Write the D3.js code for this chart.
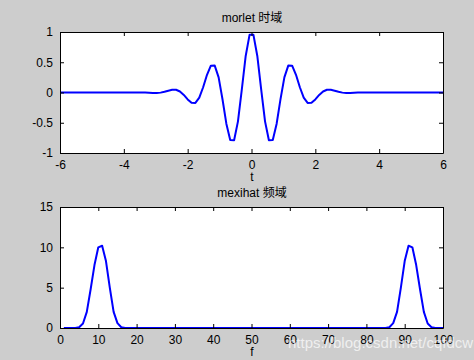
<!DOCTYPE html>
<html>
<head>
<meta charset="utf-8">
<script src="https://cdn.jsdelivr.net/npm/d3@7"></script>
<style>
  body { margin: 0; background: #cdcdcd; }
  svg { display: block; }
  text { font-family: "Liberation Sans", Arial, sans-serif; }
</style>
</head>
<body>
<svg width="474" height="360"></svg>
<script>
// morlet, time domain (t, value)
var morletT = [-6,
  -3.333, -3.212, -3.091, -2.970, -2.848, -2.727, -2.606, -2.485, -2.364, -2.242,
  -2.121, -2.000, -1.879, -1.758, -1.636, -1.515, -1.394, -1.273, -1.152, -1.030,
  -0.909, -0.788, -0.667, -0.545, -0.424, -0.303, -0.182, -0.061,
  0.061, 0.182, 0.303, 0.424, 0.545, 0.667, 0.788, 0.909, 1.030, 1.152,
  1.273, 1.394, 1.515, 1.636, 1.758, 1.879, 2.000, 2.121, 2.242, 2.364,
  2.485, 2.606, 2.727, 2.848, 2.970, 3.091, 3.212, 3.333,
  6];
var morletV = [0,
  -0.002, -0.005, -0.008, -0.008, -0.002, 0.012, 0.030, 0.045, 0.045, 0.017,
  -0.040, -0.114, -0.171, -0.172, -0.085, 0.087, 0.293, 0.444, 0.445, 0.249,
  -0.111, -0.515, -0.786, -0.789, -0.477, 0.053, 0.604, 0.953,
  0.953, 0.604, 0.053, -0.477, -0.789, -0.786, -0.515, -0.111, 0.249, 0.445,
  0.444, 0.293, 0.087, -0.085, -0.172, -0.171, -0.114, -0.040, 0.017, 0.045,
  0.045, 0.030, 0.012, -0.002, -0.008, -0.008, -0.005, -0.002,
  0];

// mexihat, frequency domain: f = 1..100
var mexF = d3.range(1, 101);
var mexV = [
  0, 0, 0, 0, 0.1, 0.55, 2.0, 4.8, 7.8, 10.0,
  10.2, 8.3, 5.0, 2.0, 0.6, 0.1, 0, 0, 0, 0,
  0, 0, 0, 0, 0, 0, 0, 0, 0, 0,
  0, 0, 0, 0, 0, 0, 0, 0, 0, 0,
  0, 0, 0, 0, 0, 0, 0, 0, 0, 0,
  0, 0, 0, 0, 0, 0, 0, 0, 0, 0,
  0, 0, 0, 0, 0, 0, 0, 0, 0, 0,
  0, 0, 0, 0, 0, 0, 0, 0, 0, 0,
  0, 0, 0, 0, 0, 0.1, 0.6, 2.0, 5.0, 8.3,
  10.2, 10.0, 7.8, 4.8, 2.0, 0.55, 0.1, 0, 0, 0
];

var topXTicks = [-6, -4, -2, 0, 2, 4, 6];
var topYTicks = [-1, -0.5, 0, 0.5, 1];
var botXTicks = [0, 10, 20, 30, 40, 50, 60, 70, 80, 90, 100];
var botYTicks = [0, 5, 10, 15];

var svg = d3.select("svg");

function panel(opt) {
  var x = d3.scaleLinear().domain(opt.xd).range([60, 443]);
  var y = d3.scaleLinear().domain(opt.yd).range([opt.bottom, opt.top]);
  var g = svg.append("g");

  g.append("rect")
    .attr("x", 60).attr("y", opt.top)
    .attr("width", 383).attr("height", opt.bottom - opt.top)
    .attr("fill", "#fff");

  var line = d3.line()
    .x(function(d) { return x(d[0]); })
    .y(function(d) { return y(d[1]); });
  g.append("path")
    .datum(d3.zip(opt.xs, opt.ys))
    .attr("d", line)
    .attr("fill", "none")
    .attr("stroke", "#0000ff")
    .attr("stroke-width", 2)
    .attr("stroke-linejoin", "round");

  // axes with inward ticks, mirrored on top/right
  var fmt = function(d) { return String(d); };
  var bx = g.append("g").attr("transform", "translate(0," + opt.bottom + ")")
    .call(d3.axisBottom(x).tickValues(opt.xt).tickFormat(fmt).tickSizeInner(-4).tickSizeOuter(0).tickPadding(7));
  var tx = g.append("g").attr("transform", "translate(0," + opt.top + ")")
    .call(d3.axisTop(x).tickValues(opt.xt).tickFormat("").tickSizeInner(-4).tickSizeOuter(0));
  var ly = g.append("g").attr("transform", "translate(60,0)")
    .call(d3.axisLeft(y).tickValues(opt.yt).tickFormat(fmt).tickSizeInner(-4).tickSizeOuter(0).tickPadding(7));
  var ry = g.append("g").attr("transform", "translate(443,0)")
    .call(d3.axisRight(y).tickValues(opt.yt).tickFormat("").tickSizeInner(-4).tickSizeOuter(0));

  [bx, tx, ly, ry].forEach(function(a) {
    a.select(".domain").attr("stroke", "#000");
    a.selectAll("line").attr("stroke", "#000");
    a.selectAll("text")
      .attr("fill", "#000")
      .style("font-family", "'Liberation Sans', Arial, sans-serif")
      .style("font-size", "12px");
  });

  g.append("text")
    .attr("x", 252).attr("y", opt.top - 10)
    .attr("text-anchor", "middle")
    .style("font-size", "12px")
    .style("font-family", "'Liberation Sans', 'Noto Sans CJK SC', sans-serif")
    .text(opt.title);

  g.append("text")
    .attr("x", 252).attr("y", opt.bottom + 28)
    .attr("text-anchor", "middle")
    .style("font-size", "12px")
    .text(opt.xlabel);
}

panel({ top: 32, bottom: 153, xd: [-6, 6], yd: [-1, 1],
        xs: morletT, ys: morletV, xt: topXTicks, yt: topYTicks,
        title: "morlet 时域", xlabel: "t" });

panel({ top: 207, bottom: 328, xd: [0, 100], yd: [0, 15],
        xs: mexF, ys: mexV, xt: botXTicks, yt: botYTicks,
        title: "mexihat 频域", xlabel: "f" });

// watermark
svg.append("text")
  .attr("x", 288).attr("y", 348)
  .style("font-size", "15px")
  .attr("fill", "#ffffff")
  .attr("fill-opacity", 0.7)
  .text("https://blog.csdn.net/cqfdcw");
</script>
</body>
</html>
